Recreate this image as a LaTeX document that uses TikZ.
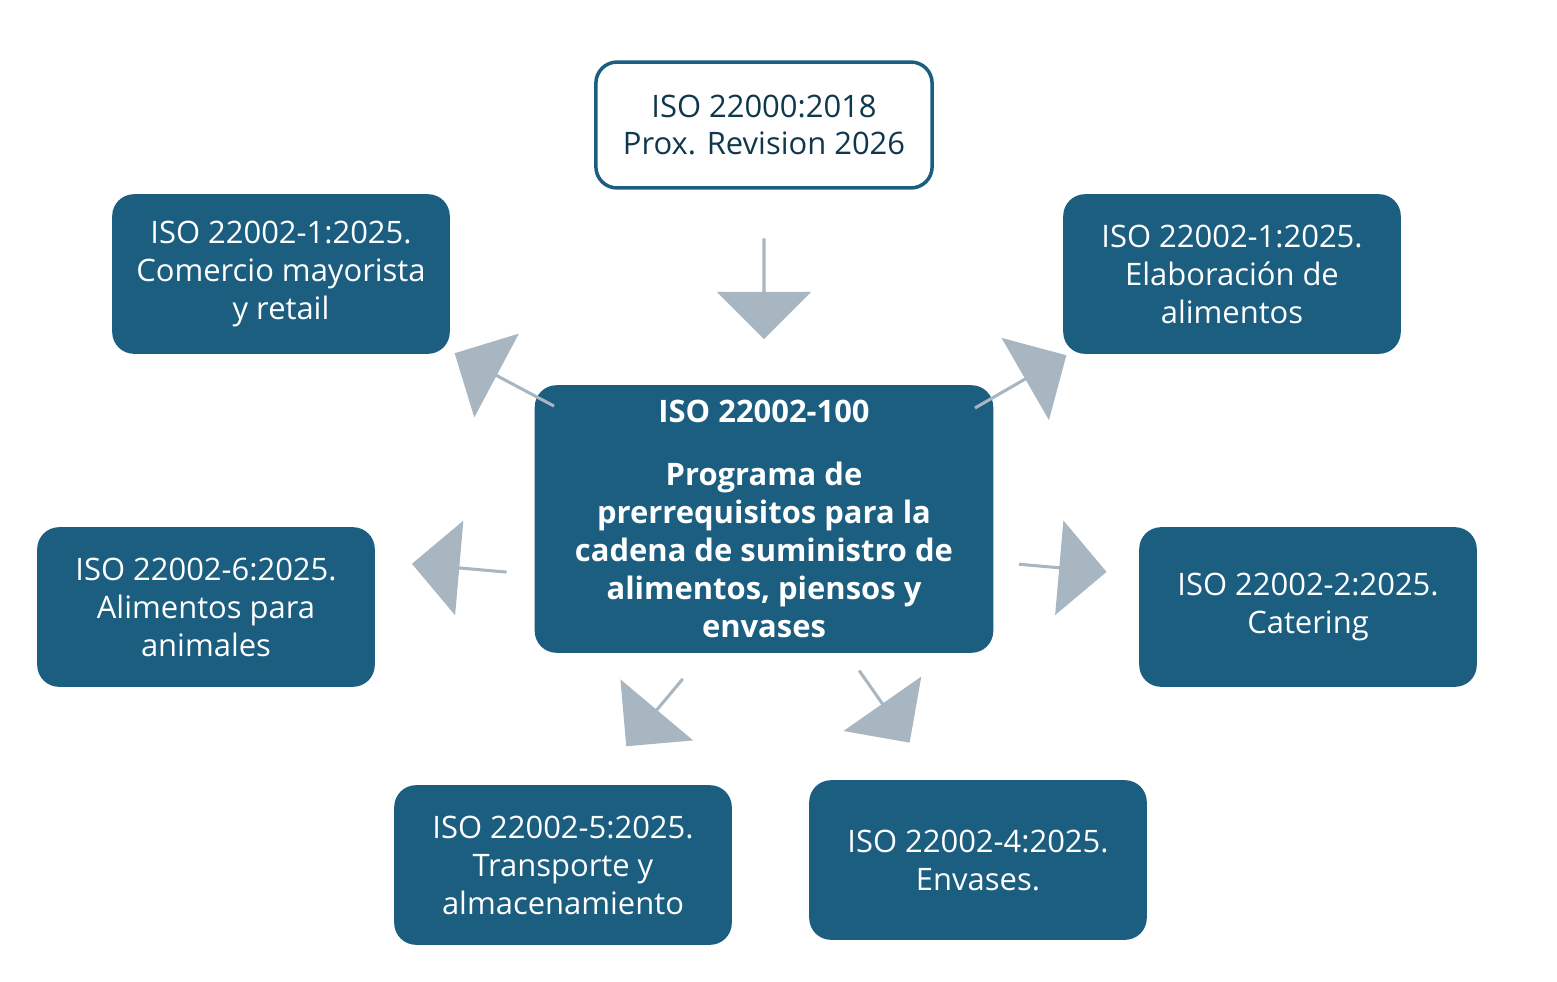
\documentclass[tikz,border=0pt]{standalone}
\usepackage{fontspec}
\setmainfont{Open Sans}
\usetikzlibrary{shapes.arrows}
\definecolor{isoblue}{HTML}{1B5E80}
\definecolor{arrowgray}{HTML}{A8B6C2}
\begin{document}
\begin{tikzpicture}[x=0.01cm,y=-0.01cm,
  every node/.style={font=\fontsize{8.8}{10.8}\selectfont,align=center},
  box/.style={draw=isoblue,fill=isoblue,text=white,rounded corners=6pt,minimum width=95.6pt,minimum height=45pt,inner sep=2pt},
  top/.style={draw=isoblue,line width=1pt,fill=white,text=isoblue!60!black,rounded corners=6pt,minimum width=95.6pt,minimum height=35.8pt},
  big/.style={box,minimum width=130pt,minimum height=75.7pt,font=\bfseries\fontsize{8.8}{10.8}\selectfont},
  blk/.style={single arrow,fill=arrowgray,draw=none,minimum width=27pt,single arrow head extend=6pt,single arrow head indent=0pt,inner sep=0pt}]
\useasboundingbox (0,0) rectangle (1557,981);
\node[top]        (iso)  at (764,125) { ISO 22000:2018\\Prox. Revision 2026 };
\node[big]        (prog) at (764,519) { ISO 22002-100\\[7pt]Programa de\\prerrequisitos para la\\cadena de suministro de\\alimentos, piensos y\\envases };
\node[box]        (ret)  at (281,274) { ISO 22002-1:2025.\\Comercio mayorista\\y retail };
\node[box]        (ela)  at (1232,274) { ISO 22002-1:2025.\\Elaboración de\\alimentos };
\node[box]        (ani)  at (206,607) { ISO 22002-6:2025.\\Alimentos para\\animales };
\node[box]        (cat)  at (1308,607) { ISO 22002-2:2025.\\Catering };
\node[box]        (tra)  at (563,865) { ISO 22002-5:2025.\\Transporte y\\almacenamiento };
\node[box]        (env)  at (978,860) { ISO 22002-4:2025.\\Envases. };
\node[blk,minimum height=28.7pt,shape border rotate=270] (a0) at (764,288) {};
\node[blk,minimum height=32pt,rotate=152]  (a1) at (505,380) {};
\node[blk,minimum height=30pt,rotate=30]   (a2) at (1020,382) {};
\node[blk,minimum height=27pt,rotate=175]  (a3) at (460,568) {};
\node[blk,minimum height=25pt,rotate=-5]   (a4) at (1062,568) {};
\node[blk,minimum height=25pt,rotate=-130] (a5) at (655,712) {};
\node[blk,minimum height=25pt,rotate=-55]  (a6) at (884,706) {};
\end{tikzpicture}
\end{document}
